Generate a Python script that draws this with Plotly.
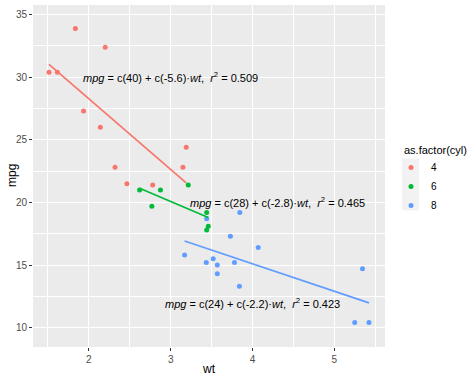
import numpy as np
import plotly.graph_objects as go

# mtcars data
wt = [2.620, 2.875, 2.320, 3.215, 3.440, 3.460, 3.570, 3.190, 3.150, 3.440, 3.440,
      4.070, 3.730, 3.780, 5.250, 5.424, 5.345, 2.200, 1.615, 1.835, 2.465, 3.520,
      3.435, 3.840, 3.845, 1.935, 2.140, 1.513, 3.170, 2.770, 3.570, 2.780]
mpg = [21.0, 21.0, 22.8, 21.4, 18.7, 18.1, 14.3, 24.4, 22.8, 19.2, 17.8,
       16.4, 17.3, 15.2, 10.4, 10.4, 14.7, 32.4, 30.4, 33.9, 21.5, 15.5,
       15.2, 13.3, 19.2, 27.3, 26.0, 30.4, 15.8, 19.7, 15.0, 21.4]
cyl = [6, 6, 4, 6, 8, 6, 8, 4, 4, 6, 6, 8, 8, 8, 8, 8, 8, 4, 4, 4, 4, 8,
       8, 8, 8, 4, 4, 4, 8, 6, 8, 4]

groups = [4, 6, 8]
colors = {4: "#F8766D", 6: "#00BA38", 8: "#619CFF"}

eq_labels = {
    4: ("c(40)", "c(-5.6)", "0.509"),
    6: ("c(28)", "c(-2.8)", "0.465"),
    8: ("c(24)", "c(-2.2)", "0.423"),
}
eq_x = {4: 3.0, 6: 4.3, 8: 4.0}
eq_y = {4: 30.0, 6: 20.0, 8: 12.0}

x_ticks = [2, 3, 4, 5]
y_ticks = [10, 15, 20, 25, 30, 35]
legend_title = "as.factor(cyl)"

FONT = "Liberation Sans, Arial"
W, H = 474, 380
ML, MR, MT, MB = 33, 89, 5, 33
PW, PH = W - ML - MR, H - MT - MB


def px(p):
    return (p - ML) / PW


def py(p):
    return (H - MB - p) / PH


wt_a = np.array(wt)
mpg_a = np.array(mpg)
cyl_a = np.array(cyl)

fig = go.Figure()
for g in groups:
    m = cyl_a == g
    fig.add_trace(go.Scatter(x=wt_a[m], y=mpg_a[m], mode="markers", name=str(g),
                             marker=dict(color=colors[g], size=5),
                             legendgroup=str(g)))
for g in groups:
    m = cyl_a == g
    x = wt_a[m]
    y = mpg_a[m]
    b, a = np.polyfit(x, y, 1)
    xs = np.linspace(x.min(), x.max(), 80)
    fig.add_trace(go.Scatter(x=xs, y=a + b * xs, mode="lines",
                             line=dict(color=colors[g], width=1.7),
                             showlegend=False, hoverinfo="skip"))

for g in groups:
    i, s, r2 = eq_labels[g]
    txt = (f"<i>mpg</i> = {i} + {s}\u00b7<i>wt</i>,  "
           f"<i>r</i><sup>2</sup> = {r2}")
    fig.add_annotation(x=eq_x[g], y=eq_y[g], text=txt, showarrow=False,
                       font=dict(family=FONT, size=11, color="black"),
                       xanchor="center", yanchor="middle")

# axis titles
fig.add_annotation(text="wt", xref="paper", yref="paper", x=0.5, y=py(369),
                   showarrow=False, xanchor="center", yanchor="middle",
                   font=dict(family=FONT, size=12, color="black"))
fig.add_annotation(text="mpg", xref="paper", yref="paper", x=px(12), y=0.5,
                   textangle=-90, showarrow=False, xanchor="center",
                   yanchor="middle",
                   font=dict(family=FONT, size=12, color="black"))

# legend title and key backgrounds
fig.add_annotation(text=legend_title, xref="paper", yref="paper",
                   x=px(402), y=py(150), showarrow=False, xanchor="left",
                   yanchor="middle",
                   font=dict(family=FONT, size=11, color="black"))
for k in range(len(groups)):
    top = 158.5 + 17.3 * k
    fig.add_shape(type="rect", xref="paper", yref="paper",
                  x0=px(402), x1=px(419), y0=py(top), y1=py(top + 17.3),
                  fillcolor="#F2F2F2", line=dict(width=0), layer="below")

axis_common = dict(showgrid=True, gridcolor="white", gridwidth=1.1,
                   zeroline=False, ticks="outside", ticklen=3,
                   tickcolor="#333333", tickwidth=1, automargin=False,
                   tickfont=dict(family=FONT, size=10, color="#4D4D4D"),
                   showline=False)

fig.update_layout(
    width=W, height=H,
    margin=dict(l=ML, r=MR, t=MT, b=MB),
    paper_bgcolor="white", plot_bgcolor="#EBEBEB",
    font=dict(family=FONT, color="black"),
    xaxis=dict(range=[1.317, 5.62], tickvals=x_ticks,
               minor=dict(showgrid=True, gridcolor="white", gridwidth=0.5,
                          tickvals=[1.5, 2.5, 3.5, 4.5, 5.5], ticks=""),
               **axis_common),
    yaxis=dict(range=[8.45, 35.77], tickvals=y_ticks,
               minor=dict(showgrid=True, gridcolor="white", gridwidth=0.5,
                          tickvals=[12.5, 17.5, 22.5, 27.5, 32.5], ticks=""),
               **axis_common),
    legend=dict(x=px(391), y=py(153), xanchor="left", yanchor="top",
                font=dict(size=10), bgcolor="rgba(0,0,0,0)",
                tracegroupgap=0, itemwidth=30),
)

fig.write_html("out.html", post_script="document.body.style.margin='0';",
               config={"displayModeBar": False})
